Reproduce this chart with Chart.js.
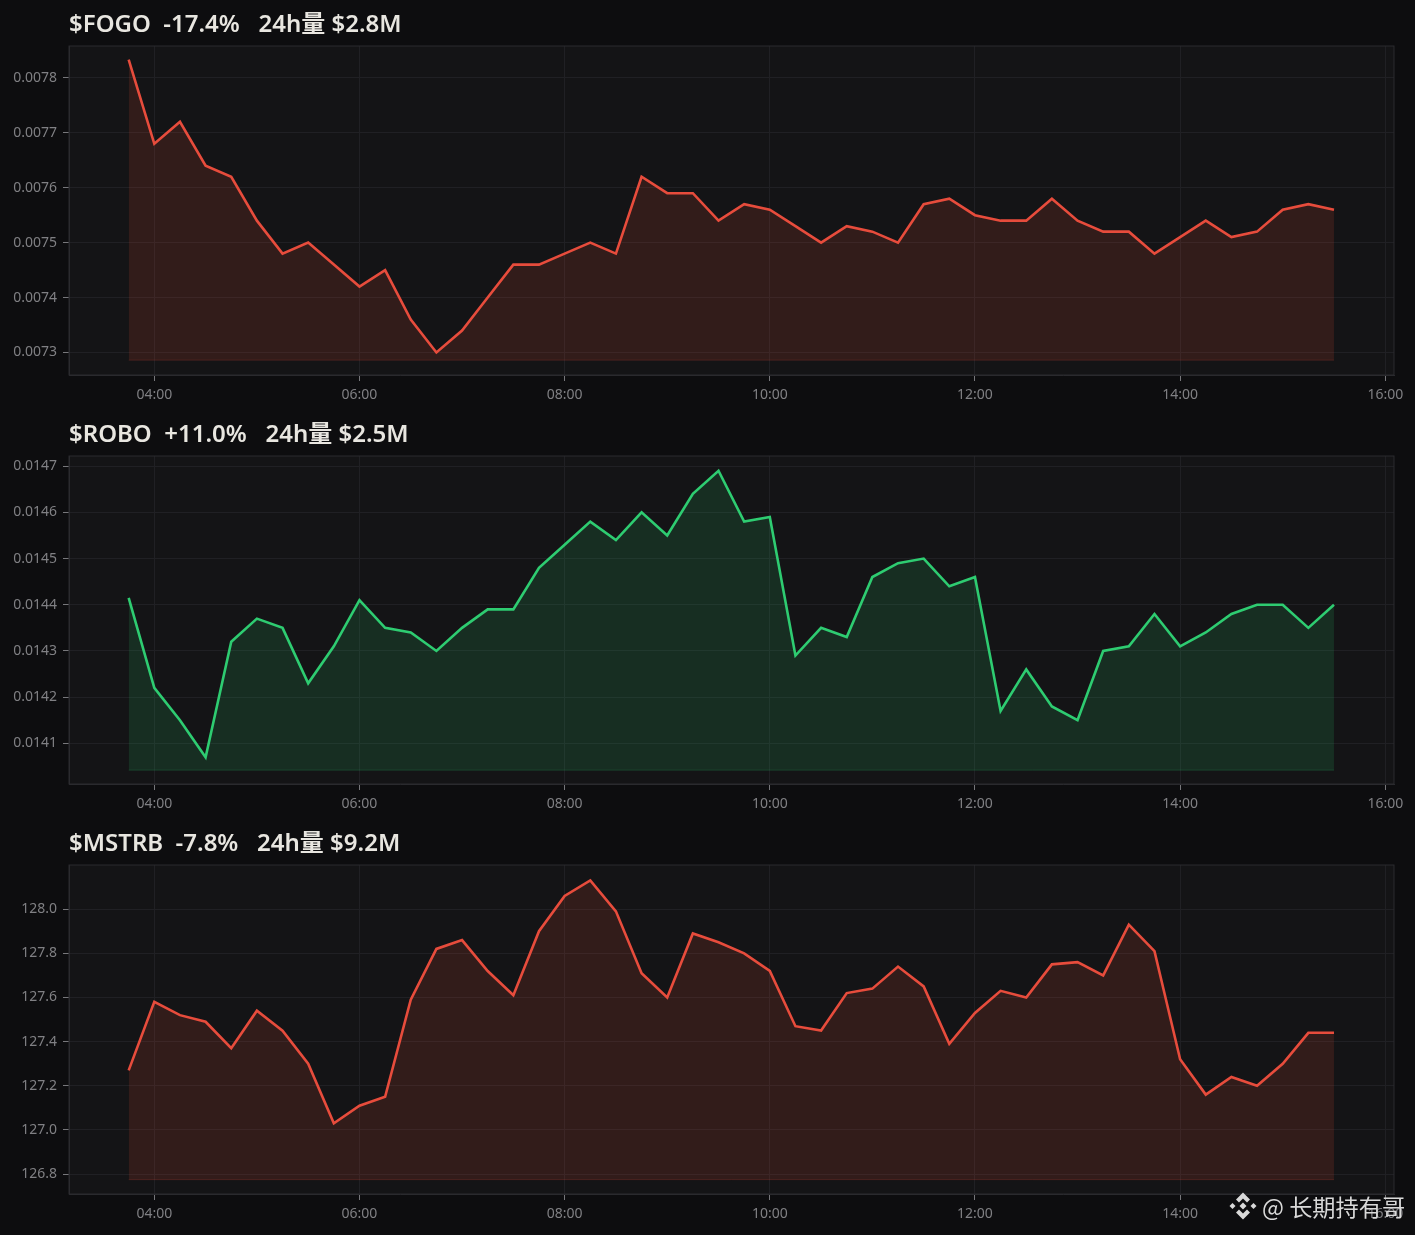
<!DOCTYPE html>
<html>
<head>
<meta charset="utf-8">
<script src="https://cdn.jsdelivr.net/npm/chart.js@4/dist/chart.umd.min.js"></script>
<style>
html, body { margin: 0; padding: 0; background: #0d0d0f; }
body { position: relative; width: 1415px; height: 1235px; overflow: hidden; }
.panel { position: absolute; left: 0; width: 1415px; }
#watermark { position: absolute; left: 1229px; top: 1190px; height: 32px; display: flex; align-items: center; color: #d9d9d9; font: 23.2px "Noto Sans CJK SC", "Noto Sans", sans-serif; white-space: nowrap; }
#watermark svg { margin-right: 5px; }
</style>
</head>
<body>
<div class="panel" style="top:0;height:410px"><canvas id="fogo-chart"></canvas></div>
<div class="panel" style="top:410px;height:410px"><canvas id="robo-chart"></canvas></div>
<div class="panel" style="top:819px;height:416px"><canvas id="mstrb-chart"></canvas></div>
<div id="watermark">
  <svg width="28" height="28" viewBox="0 0 28 28" fill="#d9d9d9">
    <path d="M14 .5l7 7-3 3-4-4-4 4-3-3z"/>
    <path d="M14 27.5l7-7-3-3-4 4-4-4-3 3z"/>
    <path d="M.5 14l3-3 3 3-3 3z"/>
    <path d="M27.5 14l-3-3-3 3 3 3z"/>
    <path d="M14 10.5l3.5 3.5-3.5 3.5-3.5-3.5z"/>
  </svg>
  <span>@ 长期持有哥</span>
</div>
<script>
const times = ["03:45","04:00","04:15","04:30","04:45","05:00","05:15","05:30","05:45","06:00","06:15","06:30",
    "06:45","07:00","07:15","07:30","07:45","08:00","08:15","08:30","08:45","09:00","09:15","09:30",
    "09:45","10:00","10:15","10:30","10:45","11:00","11:15","11:30","11:45","12:00","12:15","12:30",
    "12:45","13:00","13:15","13:30","13:45","14:00","14:15","14:30","14:45","15:00","15:15","15:30"]
const xTicks = ["04:00","06:00","08:00","10:00","12:00","14:00","16:00"]

const fogoValues = [0.007833,0.00768,0.00772,0.00764,0.00762,0.00754,0.00748,0.00750,0.00746,0.00742,0.00745,0.00736,
    0.00730,0.00734,0.00740,0.00746,0.00746,0.00748,0.00750,0.00748,0.00762,0.00759,0.00759,0.00754,
    0.00757,0.00756,0.00753,0.00750,0.00753,0.00752,0.00750,0.00757,0.00758,0.00755,0.00754,0.00754,
    0.00758,0.00754,0.00752,0.00752,0.00748,0.00751,0.00754,0.00751,0.00752,0.00756,0.00757,0.00756]
const fogoTicks = [0.0073,0.0074,0.0075,0.0076,0.0077,0.0078]

const roboValues = [0.014415,0.01422,0.01415,0.01407,0.01432,0.01437,0.01435,0.01423,0.01431,0.01441,0.01435,0.01434,
    0.01430,0.01435,0.01439,0.01439,0.01448,0.01453,0.01458,0.01454,0.01460,0.01455,0.01464,0.01469,
    0.01458,0.01459,0.01429,0.01435,0.01433,0.01446,0.01449,0.01450,0.01444,0.01446,0.01417,0.01426,
    0.01418,0.01415,0.01430,0.01431,0.01438,0.01431,0.01434,0.01438,0.01440,0.01440,0.01435,0.01440]
const roboTicks = [0.0141,0.0142,0.0143,0.0144,0.0145,0.0146,0.0147]

const mstrbValues = [127.27,127.58,127.52,127.49,127.37,127.54,127.45,127.30,127.03,127.11,127.15,127.59,
    127.82,127.86,127.72,127.61,127.90,128.06,128.13,127.99,127.71,127.60,127.89,127.85,
    127.80,127.72,127.47,127.45,127.62,127.64,127.74,127.65,127.39,127.53,127.63,127.60,
    127.75,127.76,127.70,127.93,127.81,127.32,127.16,127.24,127.20,127.30,127.44,127.44]
const mstrbTicks = [126.8,127.0,127.2,127.4,127.6,127.8,128.0]

const RED = "#e74c3c"
const GREEN = "#2ecc71"
const FONT = '"Noto Sans", "Noto Sans CJK SC", sans-serif'

function toMinutes(time){
    const parts = time.split(":")
    return Number(parts[0]) * 60 + Number(parts[1])
}

function toLabel(minutes){
    const hh = String(Math.floor(minutes / 60)).padStart(2, "0")
    const mm = String(minutes % 60).padStart(2, "0")
    return hh + ":" + mm
}

function withAlpha(hex, alpha){
    const r = parseInt(hex.slice(1, 3), 16)
    const g = parseInt(hex.slice(3, 5), 16)
    const b = parseInt(hex.slice(5, 7), 16)
    return `rgba(${r},${g},${b},${alpha})`
}

// plot background and the box round it, chart.js has no option for the top/right edge
const plotBox = {
    id: "plotBox",
    beforeDraw(chart){
        const { ctx, chartArea: a } = chart
        ctx.save()
        ctx.fillStyle = "#141416"
        ctx.fillRect(a.left, a.top, a.width, a.height)
        ctx.restore()
    },
    afterDraw(chart){
        const { ctx, chartArea: a } = chart
        ctx.save()
        ctx.strokeStyle = "#2b2b2f"
        ctx.lineWidth = 1
        ctx.strokeRect(a.left, a.top, a.width, a.height)
        ctx.restore()
    }
}

function makeChart(id, title, values, yTicks, yMin, yMax, base, color, decimals, areaBottom){
    const line = times.map((t, i) => ({ x: toMinutes(t), y: values[i] }))
    const first = line[0]
    const last = line[line.length - 1]
    new Chart(id, {
        type: "line",
        data: {
            datasets: [
                {
                    // thin edge of the filled area
                    data: [{ x: first.x, y: base }, { x: last.x, y: base }],
                    borderColor: withAlpha(color, 0.18),
                    borderWidth: 1,
                    pointRadius: 0,
                    fill: false
                },
                {
                    data: line,
                    borderColor: color,
                    borderWidth: 2.6,
                    backgroundColor: withAlpha(color, 0.14),
                    fill: { value: base },
                    pointRadius: 0,
                    tension: 0,
                    borderJoinStyle: "miter"
                }
            ]
        },
        options: {
            responsive: true,
            maintainAspectRatio: false,
            animation: false,
            layout: { padding: { right: 21 } },
            plugins: {
                legend: { display: false },
                tooltip: { enabled: false },
                title: {
                    display: true,
                    text: title,
                    align: "start",
                    fullSize: false,
                    color: "#e8e6e0",
                    font: { family: FONT, size: 24, weight: "600", lineHeight: 1.2 },
                    padding: { top: 10.6, bottom: 6.6 }
                }
            },
            scales: {
                x: {
                    type: "linear",
                    min: 190.1,
                    max: 965.1,
                    afterBuildTicks: scale => { scale.ticks = xTicks.map(t => ({ value: toMinutes(t) })) },
                    afterFit: scale => { scale.height = areaBottom },
                    grid: { color: "#202024", tickColor: "#77777b", tickLength: 6, lineWidth: 1 },
                    border: { color: "#2b2b2f" },
                    ticks: {
                        color: "#808084",
                        font: { family: FONT, size: 14 },
                        padding: 6,
                        maxRotation: 0,
                        callback: value => toLabel(value)
                    }
                },
                y: {
                    min: yMin,
                    max: yMax,
                    afterBuildTicks: scale => { scale.ticks = yTicks.map(v => ({ value: v })) },
                    afterFit: scale => { scale.width = 69 },
                    grid: { color: "#202024", tickColor: "#77777b", tickLength: 6, lineWidth: 1 },
                    border: { color: "#2b2b2f" },
                    ticks: {
                        color: "#808084",
                        font: { family: FONT, size: 14 },
                        padding: 6,
                        callback: value => value.toFixed(decimals)
                    }
                }
            }
        },
        plugins: [plotBox]
    })
}

makeChart("fogo-chart", "$FOGO  -17.4%   24h量 $2.8M", fogoValues, fogoTicks, 0.007259, 0.007858, 0.007286, RED, 4, 35)
makeChart("robo-chart", "$ROBO  +11.0%   24h量 $2.5M", roboValues, roboTicks, 0.014012, 0.014722, 0.014042, GREEN, 4, 36)
makeChart("mstrb-chart", "$MSTRB  -7.8%   24h量 $9.2M", mstrbValues, mstrbTicks, 126.71, 128.2, 126.775, RED, 1, 41)
</script>
</body>
</html>
